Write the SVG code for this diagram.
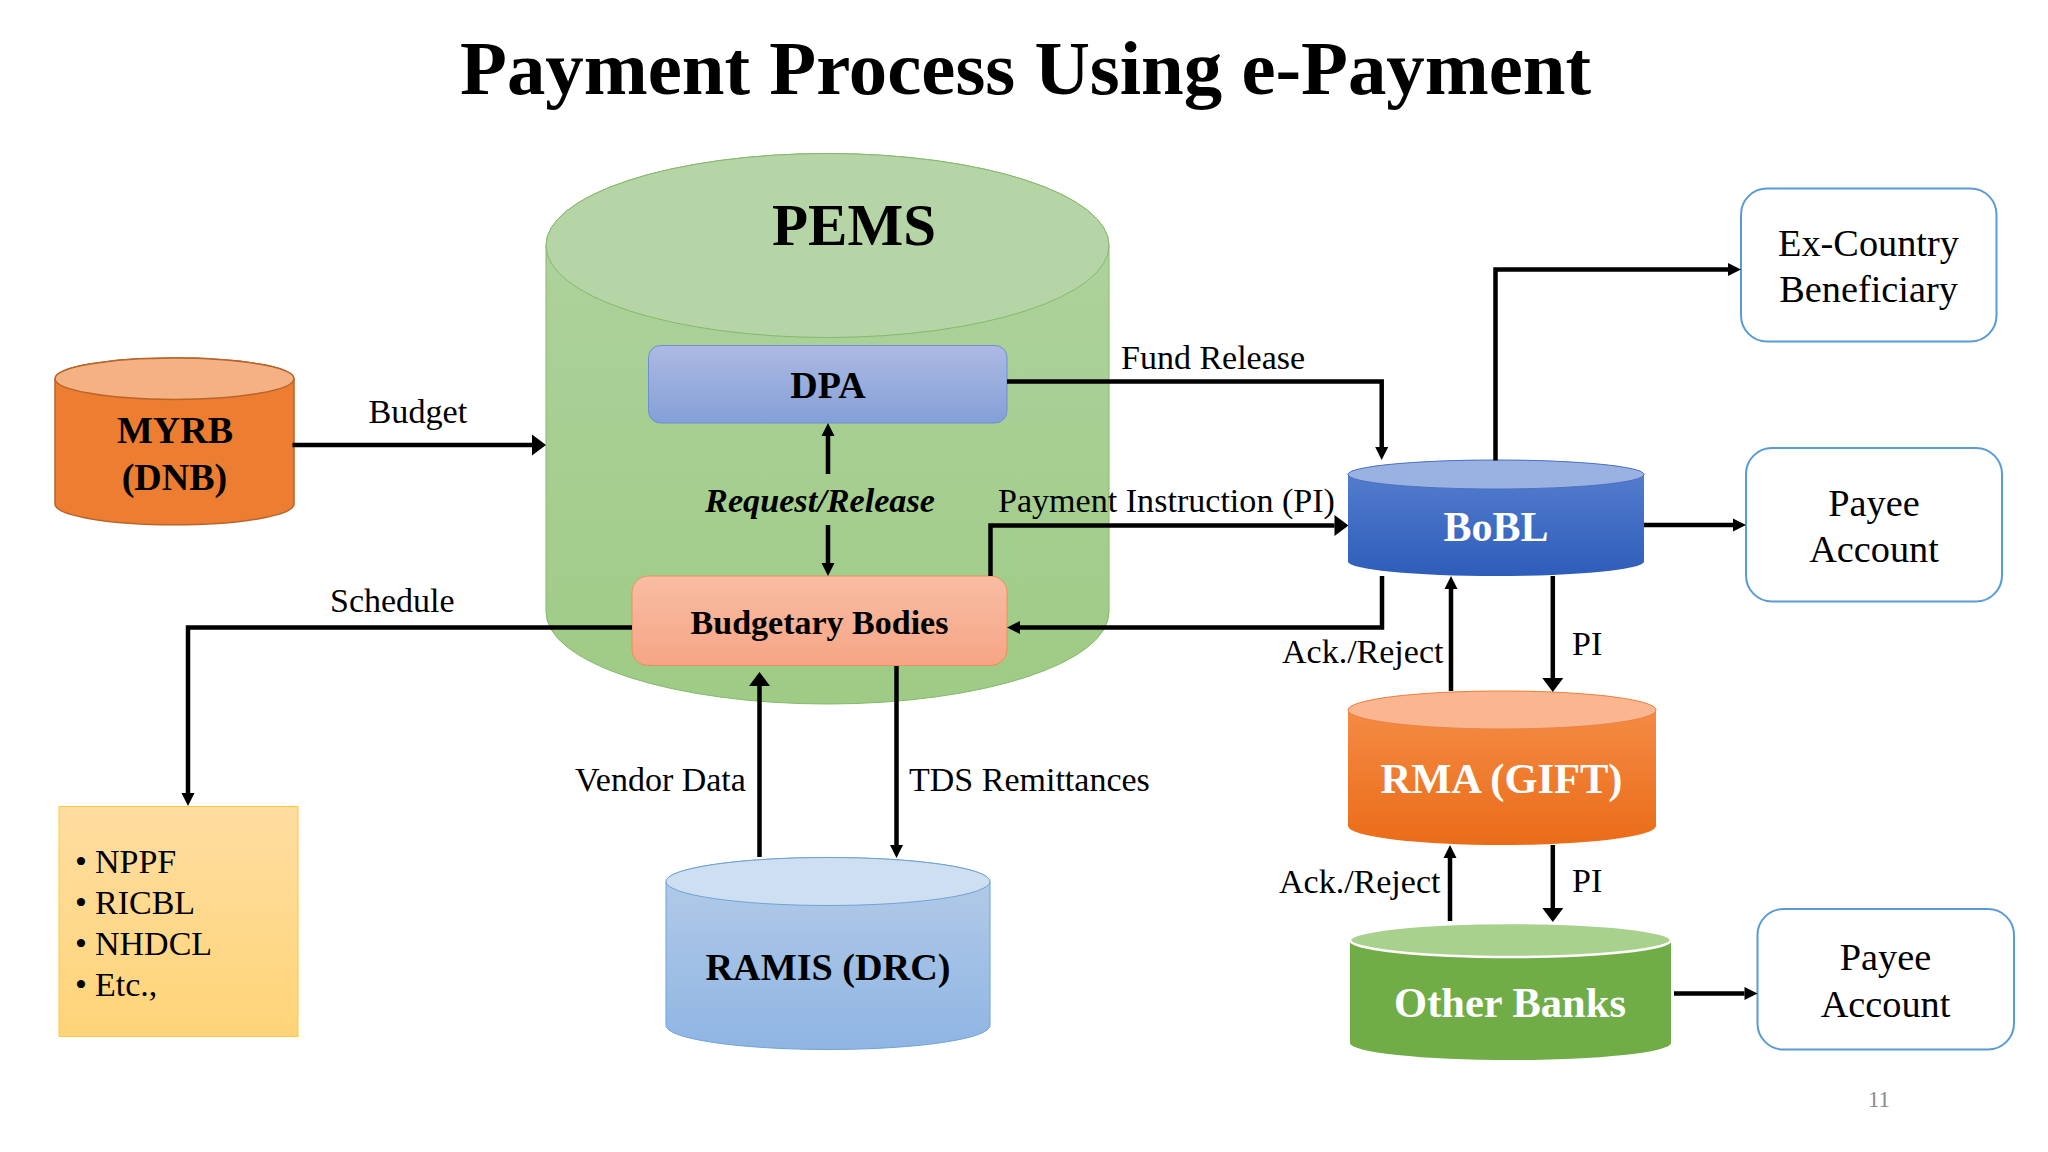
<svg xmlns="http://www.w3.org/2000/svg" width="2048" height="1152" viewBox="0 0 2048 1152">
<defs>
<linearGradient id="gPems" x1="0" y1="0" x2="0" y2="1"><stop offset="0" stop-color="#b0d3a0"/><stop offset="1" stop-color="#9ecb85"/></linearGradient>
<linearGradient id="gDpa" x1="0" y1="0" x2="0" y2="1"><stop offset="0" stop-color="#adb9e3"/><stop offset="1" stop-color="#84a0d8"/></linearGradient>
<linearGradient id="gBb" x1="0" y1="0" x2="0" y2="1"><stop offset="0" stop-color="#f8bda3"/><stop offset="1" stop-color="#f6a585"/></linearGradient>
<linearGradient id="gYel" x1="0" y1="0" x2="0" y2="1"><stop offset="0" stop-color="#fedda0"/><stop offset="1" stop-color="#ffd478"/></linearGradient>
<linearGradient id="gRam" x1="0" y1="0" x2="0" y2="1"><stop offset="0" stop-color="#b5cce8"/><stop offset="1" stop-color="#8fb5e3"/></linearGradient>
<linearGradient id="gBob" x1="0" y1="0" x2="0" y2="1"><stop offset="0" stop-color="#5880d0"/><stop offset="1" stop-color="#2e5dba"/></linearGradient>
<linearGradient id="gRma" x1="0" y1="0" x2="0" y2="1"><stop offset="0" stop-color="#f68f4a"/><stop offset="1" stop-color="#ea6c18"/></linearGradient>
<marker id="sm" markerUnits="userSpaceOnUse" markerWidth="13" markerHeight="13" refX="0" refY="6.5" orient="auto" overflow="visible"><path d="M0 0L13 6.5L0 13Z" fill="#000"/></marker>
<marker id="lg" markerUnits="userSpaceOnUse" markerWidth="14" markerHeight="21" refX="0" refY="10.5" orient="auto" overflow="visible"><path d="M0 0L14 10.5L0 21Z" fill="#000"/></marker>
</defs>
<style>
text{font-family:"Liberation Serif","Times New Roman",serif;fill:#000}
.c{text-anchor:middle}
.b{font-weight:bold}
.l{font-size:34px}
.w{fill:#fff}
.box{fill:#fff;stroke:#5b9bd5;stroke-width:2}
.n{font-size:38.3px}
#connectors path{fill:none;stroke:#000;stroke-width:4.5}
</style>
<rect width="2048" height="1152" fill="#fff"/>
<text id="title" x="460" y="94" class="b" font-size="76.8">Payment Process Using e-Payment</text>

<g id="pems">
<path d="M546 245.5A281.500 92 0 0 1 1109 245.500V612A281.500 92 0 0 1 546 612Z" fill="url(#gPems)" stroke="#86b86a" stroke-width="1"/>
<ellipse cx="827.500" cy="245.500" rx="281.500" ry="92" fill="#b5d5a6" stroke="#86b86a" stroke-width="1"/>
<text x="854" y="244.500" class="c b" font-size="59">PEMS</text>
</g>
<g id="dpa">
<rect x="648.500" y="345.500" width="358.500" height="77.500" rx="12" fill="url(#gDpa)" stroke="#6f8fcf" stroke-width="1"/>
<text x="828" y="398" class="c b" font-size="38">DPA</text>
</g>
<g id="budgetary-bodies">
<rect x="632" y="576" width="375" height="89.500" rx="16" fill="url(#gBb)" stroke="#e8925c" stroke-width="1"/>
<text x="819.500" y="634" class="c b" font-size="34">Budgetary Bodies</text>
</g>
<g id="myrb">
<path d="M55 378.700A119.500 20.700 0 0 1 294 378.700V504A119.500 20.700 0 0 1 55 504Z" fill="#ed7d31" stroke="#b8642a" stroke-width="1.500"/>
<ellipse cx="174.500" cy="378.700" rx="119.500" ry="20.700" fill="#f4b183" stroke="#b8642a" stroke-width="1.500"/>
<text x="175" y="443" class="c b" font-size="38">MYRB</text>
<text x="174.500" y="489.500" class="c b" font-size="38">(DNB)</text>
</g>
<g id="schedule-list">
<rect x="59" y="806.500" width="239" height="230" fill="url(#gYel)" stroke="#ffc83d" stroke-width="1"/>
<text class="l"><tspan x="75" y="873">•</tspan><tspan x="95" y="873">NPPF</tspan><tspan x="75" y="914">•</tspan><tspan x="95" y="914">RICBL</tspan><tspan x="75" y="955">•</tspan><tspan x="95" y="955">NHDCL</tspan><tspan x="75" y="996">•</tspan><tspan x="95" y="996">Etc.,</tspan></text>
</g>
<g id="ramis">
<path d="M666 881.500A162 24 0 0 1 990 881.500V1025.500A162 24 0 0 1 666 1025.500Z" fill="url(#gRam)" stroke="#6fa3d8" stroke-width="1"/>
<ellipse cx="828" cy="881.500" rx="162" ry="24" fill="#cddff1" stroke="#6fa3d8" stroke-width="1"/>
<text x="828" y="980" class="c b" font-size="38.200">RAMIS (DRC)</text>
</g>
<g id="bobl">
<path d="M1348 474.500A148 14.500 0 0 1 1644 474.500V561.500A148 14.500 0 0 1 1348 561.500Z" fill="url(#gBob)"/>
<ellipse cx="1496" cy="474.500" rx="148" ry="14.500" fill="#9ab2e2" stroke="#4c72c4" stroke-width="1"/>
<text x="1496" y="541" class="c b w" font-size="42">BoBL</text>
</g>
<g id="rma">
<path d="M1348 710A154 19 0 0 1 1656 710V826A154 19 0 0 1 1348 826Z" fill="url(#gRma)"/>
<ellipse cx="1502" cy="710" rx="154" ry="19" fill="#f9b690" stroke="#ee8140" stroke-width="1"/>
<text x="1501.500" y="793" class="c b w" font-size="42.500">RMA (GIFT)</text>
</g>
<g id="other-banks">
<path d="M1350 940A160.500 17 0 0 1 1671 940V1043A160.500 17 0 0 1 1350 1043Z" fill="#70ad47"/>
<ellipse cx="1510.500" cy="940" rx="160.500" ry="17" fill="#a9d18e" stroke="#fff" stroke-width="2.500"/>
<text x="1510" y="1017" class="c b w" font-size="42.500">Other Banks</text>
</g>
<g id="ex-country">
<rect class="box" x="1741" y="188.500" width="255.500" height="153" rx="26"/>
<text x="1868.500" y="256" class="c n">Ex-Country</text>
<text x="1868.500" y="302" class="c n">Beneficiary</text>
</g>
<g id="payee-1">
<rect class="box" x="1746" y="448" width="256" height="153.500" rx="26"/>
<text x="1874" y="516" class="c n">Payee</text>
<text x="1874" y="562" class="c n">Account</text>
</g>
<g id="payee-2">
<rect class="box" x="1757.500" y="909" width="256.500" height="140.500" rx="26"/>
<text x="1885.500" y="970" class="c n">Payee</text>
<text x="1885.500" y="1016.500" class="c n">Account</text>
</g>

<g id="connectors">
<path d="M292.500 445H532" marker-end="url(#lg)"/>
<path d="M632 627.500H188V793" marker-end="url(#sm)"/>
<path d="M828 474V436" marker-end="url(#sm)"/>
<path d="M828 525V563" marker-end="url(#sm)"/>
<path d="M1007 381.500H1381.700V447" marker-end="url(#sm)"/>
<path d="M990.500 576V525.500H1334.500" marker-end="url(#lg)"/>
<path d="M1382 576V627.500H1020" marker-end="url(#sm)"/>
<path d="M759.500 857V686" marker-end="url(#lg)"/>
<path d="M896.500 666V845" marker-end="url(#sm)"/>
<path d="M1495.500 460.500V269.500H1728" marker-end="url(#sm)"/>
<path d="M1644 525H1733" marker-end="url(#sm)"/>
<path d="M1451 691V589" marker-end="url(#sm)"/>
<path d="M1552.800 576V678" marker-end="url(#lg)"/>
<path d="M1450 921V858" marker-end="url(#sm)"/>
<path d="M1552.800 845V908" marker-end="url(#lg)"/>
<path d="M1674 993.500H1744.500" marker-end="url(#sm)"/>
</g>

<g id="connector-labels">
<text x="368.500" y="422.500" class="l" font-size="34" style="font-size:34.200px">Budget</text>
<text x="330" y="611.500" class="l">Schedule</text>
<text x="1121" y="368.500" class="l">Fund Release</text>
<text x="998" y="512" class="l" style="font-size:34.100px">Payment Instruction (PI)</text>
<text x="820" y="512" class="c b" font-size="34.200" font-style="italic">Request/Release</text>
<text x="575" y="791" class="l">Vendor Data</text>
<text x="909" y="791" class="l">TDS Remittances</text>
<text x="1282" y="662.500" class="l">Ack./Reject</text>
<text x="1279" y="892.500" class="l">Ack./Reject</text>
<text x="1572" y="654.500" class="l">PI</text>
<text x="1572" y="892" class="l">PI</text>
</g>
<text id="page-number" x="1879" y="1107" class="c" font-size="23" style="fill:#8c8c8c">11</text>
</svg>
